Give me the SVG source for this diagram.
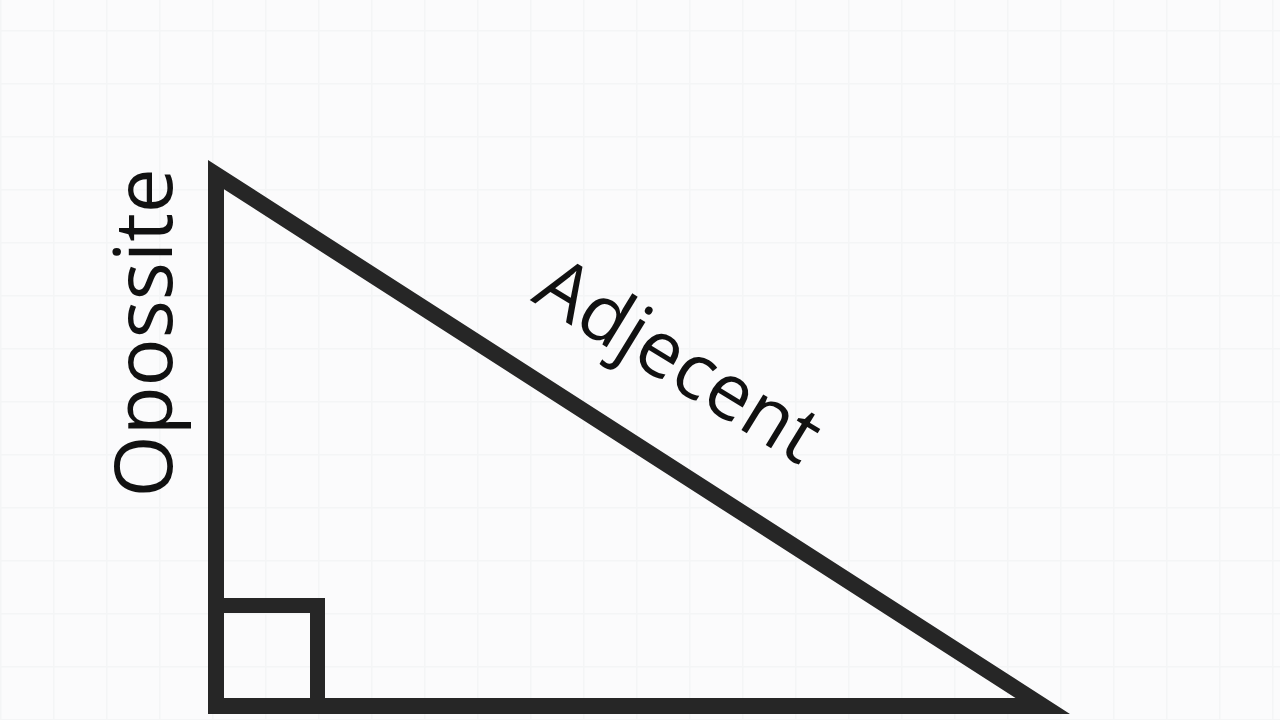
<svg xmlns="http://www.w3.org/2000/svg" width="1280" height="720" viewBox="0 0 1280 720">
  <defs>
    <pattern id="grid" x="0" y="30" width="53" height="53" patternUnits="userSpaceOnUse">
      <path d="M0 0.5 H53 M0.5 0 V53" fill="none" stroke="#f4f5f6" stroke-width="2"/>
    </pattern>
    <style>
      .shape { fill: #262626; fill-rule: evenodd; stroke: none; }
      .label { font-family: "Open Sans", "Noto Sans", "DejaVu Sans", sans-serif; font-size: 80px; fill: #111111; }
    </style>
  </defs>
  <rect width="1280" height="720" fill="#fbfbfc"/>
  <rect width="1280" height="720" fill="url(#grid)"/>
  <g id="triangle">
    <path class="shape" d="M208 160 L208 714 L1070 714 Z M224 189.3 L224 698 L1015.5 698 Z"/>
  </g>
  <g id="right-angle">
    <path class="shape" d="M224 598 L325 598 L325 698 L310 698 L310 613 L224 613 Z"/>
  </g>
  <g id="label-opposite">
    <text class="label" text-anchor="middle" transform="translate(172 333) rotate(-90)">Opossite</text>
  </g>
  <g id="label-adjecent">
    <text class="label" text-anchor="middle" transform="translate(665 383) rotate(31.5)" style="font-size:78px">Adjecent</text>
  </g>
  <g id="connectors"></g>
</svg>
